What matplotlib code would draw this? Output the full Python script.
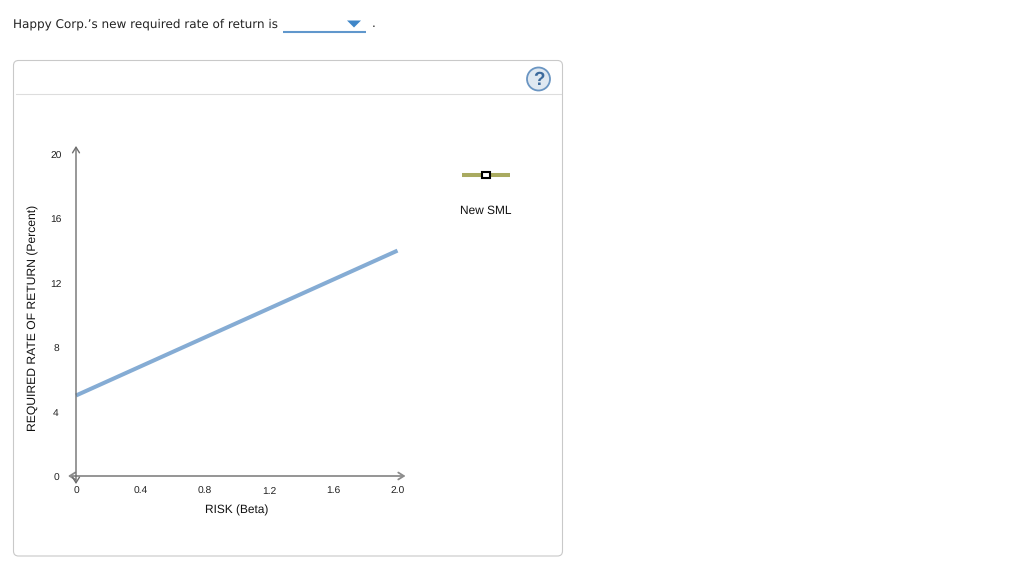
import matplotlib
matplotlib.use("Agg")
import matplotlib.pyplot as plt
from matplotlib.patches import FancyBboxPatch, Circle, Polygon, Rectangle
from matplotlib.transforms import ScaledTranslation

W, H = 1024, 569

# Security market line
beta = [0.0, 2.0]
required_return = [5.0, 14.0]
x_ticks = [0, 0.4, 0.8, 1.2, 1.6, 2.0]
x_tick_labels = ["0", "0.4", "0.8", "1.2", "1.6", "2.0"]
y_ticks = [0, 4, 8, 12, 16, 20]
y_tick_labels = ["0", "4", "8", "12", "16", "20"]
x_label = "RISK (Beta)"
y_label = "REQUIRED RATE OF RETURN (Percent)"
legend_label = "New SML"
prompt = "Happy Corp.\u2019s new required rate of return is"

SANS = "Liberation Sans"
GREY = "#6e6e6e"
LINE_BLUE = "#85acd4"
OLIVE = "#a9aa60"

plt.rcParams["text.hinting"] = "no_hinting"

fig = plt.figure(figsize=(W / 100, H / 100), dpi=100, facecolor="white")

# Page layer in pixel coordinates: prompt, panel frame, help icon, legend
page = fig.add_axes([0, 0, 1, 1])
page.set_xlim(0, W)
page.set_ylim(H, 0)
page.axis("off")

page.text(13, 24, prompt, family="DejaVu Sans", fontsize=8.68, color="#222222", va="center", ha="left")
page.plot([283, 365.5], [32, 32], color="#6097cc", lw=1.5, solid_capstyle="butt")
page.add_patch(Polygon([[347, 20.5], [361, 20.5], [354, 27.5]], closed=True, fc="#3f86c8", ec="none"))
page.text(373.5, 24, ".", family="DejaVu Sans", fontsize=8.68, color="#222222", va="center", ha="center")

page.add_patch(FancyBboxPatch((13.5, 60.5), 549, 495.5, boxstyle="round,pad=0,rounding_size=5",
                              fc="white", ec="#c9c9c9", lw=0.8))
page.plot([16, 561], [94, 94], color="#dddddd", lw=0.8)

page.add_patch(Circle((538.5, 79), 11.5, fc="#dfe8f1", ec="#6a95c2", lw=1.3))
page.text(538.5, 80, "?", family=SANS, fontsize=13.5, fontweight="bold", color="#3c6a9c", ha="center", va="center")

page.plot([462, 510], [174.5, 174.5], color=OLIVE, lw=2.9, solid_capstyle="butt")
page.add_patch(Rectangle((481.5, 171.5), 8, 6, fc="white", ec="black", lw=1.5, zorder=3))
page.text(486, 210.8, legend_label, family=SANS, fontsize=8.6, color="#111111", ha="center", va="center")

# Chart layer placed so that the data ranges land on the plotted axes
left, right, top, bottom = 76, 397.5, 154, 476
ax = fig.add_axes([left / W, 1 - bottom / H, (right - left) / W, (bottom - top) / H])
ax.patch.set_alpha(0)
ax.set_xlim(0, 2)
ax.set_ylim(0, 20)
for spine in ax.spines.values():
    spine.set_visible(False)

ax.set_xticks(x_ticks, x_tick_labels, family=SANS, fontsize=7.4, color="#222222", va="baseline")
ax.set_yticks(y_ticks, y_tick_labels, family=SANS, fontsize=7.4, color="#222222", ha="center")
ax.tick_params(axis="x", length=0, pad=13.2)
ax.tick_params(axis="y", length=0, pad=14.4)

# Nudge the value labels down a pixel so they sit level with their positions
nudge = ScaledTranslation(0, -1 / fig.dpi, fig.dpi_scale_trans)
for lab in ax.get_yticklabels():
    lab.set_transform(lab.get_transform() + nudge)

ax.set_xlabel(x_label, family=SANS, fontsize=8.6, color="#111111")
ax.xaxis.set_label_coords(0.5, -29 / (bottom - top), transform=ax.transAxes)
ax.set_ylabel(y_label, family=SANS, fontsize=8.75, color="#111111")
ax.yaxis.set_label_coords(-37 / (right - left), 0.49)

arrow = dict(arrowstyle="<->,head_length=0.4,head_width=0.25", color=GREY, lw=1.0, shrinkA=0, shrinkB=0)
ax.annotate("", xy=(2.05, 0), xytext=(-0.05, 0), arrowprops={**arrow, "color": "#8c8c8c", "lw": 1.3}, annotation_clip=False)
ax.annotate("", xy=(0, 20.5), xytext=(0, -0.5), arrowprops=arrow, annotation_clip=False)

ax.plot(beta, required_return, color=LINE_BLUE, lw=2.9, solid_capstyle="butt", clip_on=False)

fig.savefig("out.png", dpi=100, facecolor="white")
